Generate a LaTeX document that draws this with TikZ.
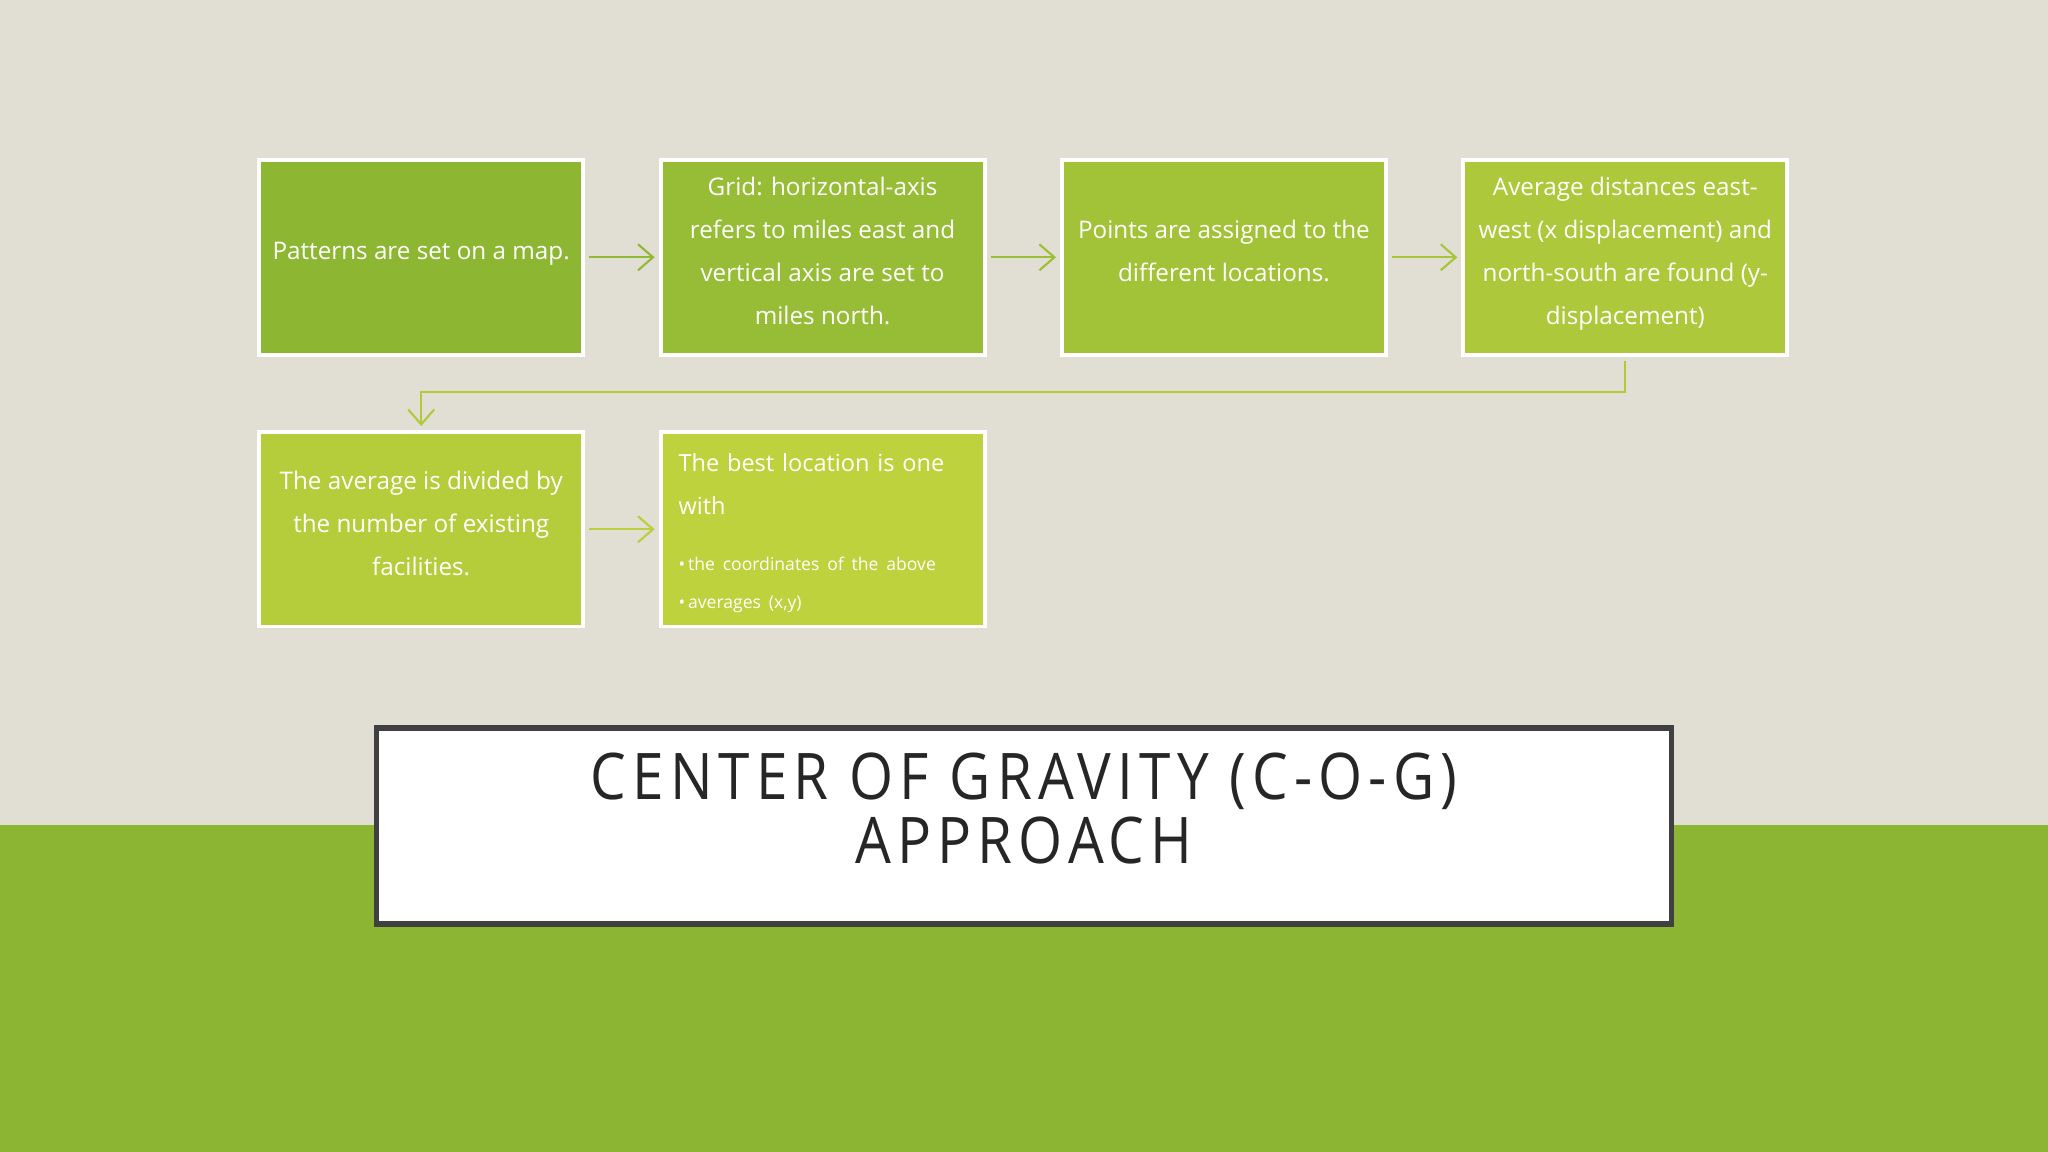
\documentclass[tikz,border=0pt]{standalone}
\usepackage{fontspec}
\setmainfont{Open Sans}
\newfontfamily\titlefont[LetterSpace=9.5,FakeStretch=0.88]{Open Sans}
\usepackage{xcolor}
\usepackage{tikz}
\usetikzlibrary{positioning,arrows.meta}
\definecolor{CreamBack}{RGB}{225,222,211}
\definecolor{GreenBand}{RGB}{140,181,51}
\definecolor{StepOne}{RGB}{141,183,51}
\definecolor{StepTwo}{RGB}{151,188,54}
\definecolor{StepThree}{RGB}{162,194,56}
\definecolor{StepFour}{RGB}{173,200,58}
\definecolor{StepFive}{RGB}{181,205,59}
\definecolor{StepSix}{RGB}{189,210,61}
\definecolor{TitleFrame}{RGB}{64,64,64}
\definecolor{TitleInk}{RGB}{38,38,38}

\begin{document}
\begin{tikzpicture}[>={Straight Barb[length=1.5mm,width=2.6mm]},node distance=7.35mm,
  stepbox/.style={draw=white,line width=1.1pt,minimum width=3.24cm,minimum height=1.946cm,
    inner sep=0pt,text=white,font=\fontsize{6.9}{12.2}\selectfont},
  midbox/.style={stepbox,align=center,text depth=3.6pt},
  flow/.style={->,line width=0.6pt,shorten <=0.4mm,shorten >=0.4mm},
  titlebox/.style={draw=TitleFrame,fill=white,line width=1.7pt,minimum width=12.95cm,minimum height=1.964cm},
  titletext/.style={text=TitleInk,align=center,inner sep=0pt,font=\titlefont\fontsize{18.3}{18.2}\selectfont}]
  % backdrop
  \fill[CreamBack] (0,0) rectangle (20.48,11.52);
  \fill[GreenBand] (0,0) rectangle (20.48,3.265);
  % steps
  \node[midbox,fill=StepOne] (map) at (4.212,8.947) {Patterns are set on a map.};
  \node[midbox,fill=StepTwo,right=of map] (grid) {Grid: horizontal-axis\\refers to miles east and\\vertical axis are set to\\miles north.};
  \node[midbox,fill=StepThree,right=of grid] (points) {Points are assigned to the\\different locations.};
  \node[midbox,fill=StepFour,right=of points] (avg) {Average distances east-\\west (x displacement) and\\north-south are found (y-\\displacement)};
  \node[midbox,fill=StepFive,below=of map] (divide) {The average is divided by\\the number of existing\\facilities.};
  \node[stepbox,fill=StepSix,right=of divide,align=left,text width=2.88cm,inner xsep=1.8mm,
    font=\fontsize{6.7}{12.2}\selectfont] (best)
    {\rule{0pt}{7.5pt}The best location is one\\with\par\vspace{1.8mm}{\fontsize{5.0}{10.8}\selectfont\textbullet\,the coordinates of the above\\\textbullet\,averages (x,y)\par}};
  \draw[flow,StepOne!50!StepTwo] (map) -- (grid);
  \draw[flow,StepTwo!50!StepThree] (grid) -- (points);
  \draw[flow,StepThree!50!StepFour] (points) -- (avg);
  \draw[flow,StepFour!50!StepFive] (avg.south) -- ++(0,-0.352) -| (divide.north);
  \draw[flow,StepFive!50!StepSix] (divide) -- (best);
  % title
  \node[titlebox] (cog) at (10.24,3.259) {};
  \node[titletext] (cogtitle) at ([yshift=1.8mm]cog.center) {CENTER OF GRAVITY (C-O-G)\\APPROACH};
\end{tikzpicture}
\end{document}
